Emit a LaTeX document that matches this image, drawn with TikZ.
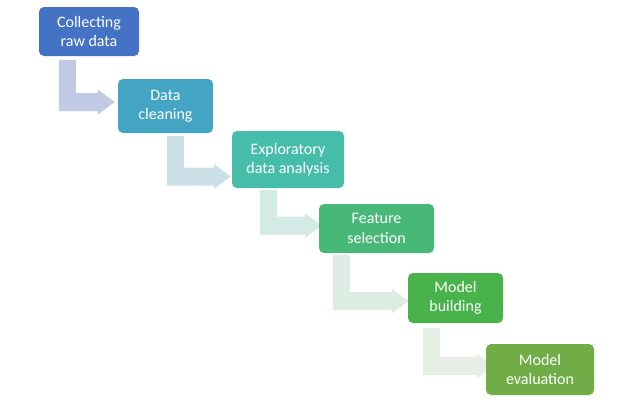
\documentclass[tikz,border=0pt]{standalone}
\usepackage{fontspec}
\setmainfont{Carlito}
\usetikzlibrary{calc,backgrounds}

\definecolor{stageA}{HTML}{4472C4}
\definecolor{stageB}{HTML}{44A4C3}
\definecolor{stageC}{HTML}{46BDA8}
\definecolor{stageD}{HTML}{48B878}
\definecolor{stageE}{HTML}{49B24A}
\definecolor{stageF}{HTML}{70AD47}
\definecolor{bendA}{HTML}{C1CAE4}
\definecolor{bendB}{HTML}{CCE0E8}
\definecolor{bendC}{HTML}{D4EAE4}
\definecolor{bendD}{HTML}{DEEDE3}
\definecolor{bendE}{HTML}{E6EEE6}

% bent arrow: colour, top left of the stem, tip
\newcommand{\bentarrow}[3]{%
  \fill[#1] let \p1=(#2), \p2=(#3) in
    (\p1) -- (\x1+17pt,\y1) -- (\x1+17pt,\y2+9pt) -- (\x2-17pt,\y2+9pt)
    -- (\x2-17pt,\y2+12.5pt) -- (\p2) -- (\x2-17pt,\y2-12.5pt)
    -- (\x2-17pt,\y2-9pt) -- (\x1,\y2-9pt) -- cycle;}

\begin{document}
\begin{tikzpicture}[x=1pt,y=-1pt,
    stage/.style={rounded corners=5pt,text=white,align=center,inner sep=0pt,
        font=\fontsize{16}{19.5}\selectfont},
]
\useasboundingbox (0,0) rectangle (620,413);

\node[stage,fill=stageA,minimum width=100pt,minimum height=49pt] (collect) at (89,31.5) {Collecting\\raw data};
\node[stage,fill=stageB,minimum width=95pt,minimum height=54pt] (clean) at (165.5,106) {Data\\cleaning};
\node[stage,fill=stageC,minimum width=112pt,minimum height=57pt] (explore) at (288,159.5) {Exploratory\\data analysis};
\node[stage,fill=stageD,minimum width=115pt,minimum height=49pt] (feature) at (376.5,228.5) {Feature\\selection};
\node[stage,fill=stageE,minimum width=95pt,minimum height=50pt] (build) at (455.5,298) {Model\\building};
\node[stage,fill=stageF,minimum width=108pt,minimum height=51pt] (evaluate) at (540,369.5) {Model\\evaluation};

\begin{scope}[on background layer]
    \bentarrow{bendA}{$(collect.south west)+(20,4)$}{$(clean.west)+(-3,-4)$}
    \bentarrow{bendB}{$(clean.south west)+(49,3)$}{$(explore.west)+(-1,17)$}
    \bentarrow{bendC}{$(explore.south west)+(28,2)$}{$(feature.west)+(3,-3)$}
    \bentarrow{bendD}{$(feature.south west)+(14,2)$}{$(build.west)+(1,3)$}
    \bentarrow{bendE}{$(build.south west)+(15,5)$}{$(evaluate.west)+(8,-3.5)$}
\end{scope}
\end{tikzpicture}
\end{document}
